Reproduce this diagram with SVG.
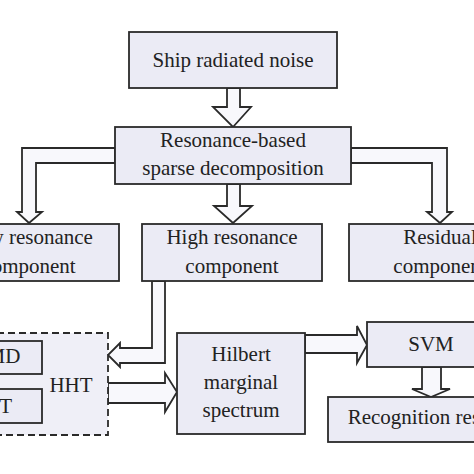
<svg xmlns="http://www.w3.org/2000/svg" width="474" height="474" viewBox="0 0 474 474">
<style>
.box{fill:#ebebf5;stroke:#2a2a2a;stroke-width:1.8}
.dash{fill:#efeff7;stroke:#2a2a2a;stroke-width:1.8;stroke-dasharray:7 4}
.arr{fill:#f8f8fc;stroke:#2a2a2a;stroke-width:1.8;stroke-linejoin:miter}
.t{font-family:'Liberation Serif','Times New Roman',Tinos,'DejaVu Serif',serif;font-size:21px;fill:#222;text-anchor:middle}
</style>
<rect width="474" height="474" fill="#ffffff"/>
<g id="connectors">
<polygon class="arr" points="227,88 227,107 213,107 233,127 251,107 240,107 240,88"/>
<polygon class="arr" points="115,148 22,148 22,212 17,212 29,223 42,212 36,212 36,163 115,163"/>
<polygon class="arr" points="351,148 447,148 447,212 452,212 440,223 427,212 432,212 432,163 351,163"/>
<polygon class="arr" points="227,184 227,206 214,206 233,223 252,206 240,206 240,184"/>
<polygon class="arr" points="152,281 152,348 120,348 120,343 108,355 120,367 120,363 165,363 165,281"/>
<polygon class="arr" points="108,383 165,383 165,373 177,392 165,412 165,403 108,403"/>
<polygon class="arr" points="305,335 357,335 357,326 367,345 357,363 357,353 305,353"/>
<polygon class="arr" points="422,367 422,389 412,389 431,397 450,389 441,389 441,367"/>
</g>
<g id="ship">
<rect class="box" x="129" y="32" width="208" height="56"/>
<text class="t" font-family="Liberation Serif, serif" x="233" y="67">Ship radiated noise</text>
</g>
<g id="rsd">
<rect class="box" x="115" y="127" width="236" height="57"/>
<text class="t" font-family="Liberation Serif, serif" x="233" y="147">Resonance-based</text>
<text class="t" font-family="Liberation Serif, serif" x="233" y="175">sparse decomposition</text>
</g>
<g id="low">
<rect class="box" x="-61" y="224" width="180" height="57"/>
<text class="t" font-family="Liberation Serif, serif" x="29" y="244">Low resonance</text>
<text class="t" font-family="Liberation Serif, serif" x="29" y="273">component</text>
</g>
<g id="high">
<rect class="box" x="142" y="224" width="180" height="57"/>
<text class="t" font-family="Liberation Serif, serif" x="232" y="244">High resonance</text>
<text class="t" font-family="Liberation Serif, serif" x="232" y="273">component</text>
</g>
<g id="residual">
<rect class="box" x="349" y="224" width="180" height="57"/>
<text class="t" font-family="Liberation Serif, serif" x="440" y="244">Residual</text>
<text class="t" font-family="Liberation Serif, serif" x="440" y="273">component</text>
</g>
<g id="hht">
<rect class="dash" x="-80" y="333" width="188" height="102"/>
<text class="t" font-family="Liberation Serif, serif" x="71" y="392">HHT</text>
</g>
<g id="emd">
<rect class="box" x="-49" y="341" width="91" height="33"/>
<text class="t" font-family="Liberation Serif, serif" x="-3" y="363">EMD</text>
</g>
<g id="ht">
<rect class="box" x="-49" y="389" width="91" height="34"/>
<text class="t" font-family="Liberation Serif, serif" x="-2" y="413">HT</text>
</g>
<g id="hilbert">
<rect class="box" x="177" y="333" width="128" height="101"/>
<text class="t" font-family="Liberation Serif, serif" x="241" y="361">Hilbert</text>
<text class="t" font-family="Liberation Serif, serif" x="241" y="389">marginal</text>
<text class="t" font-family="Liberation Serif, serif" x="241" y="417">spectrum</text>
</g>
<g id="svm">
<rect class="box" x="367" y="322" width="126" height="45"/>
<text class="t" font-family="Liberation Serif, serif" x="431" y="351">SVM</text>
</g>
<g id="recognition">
<rect class="box" x="328" y="397" width="194" height="45"/>
<text class="t" font-family="Liberation Serif, serif" x="425" y="424">Recognition result</text>
</g>
</svg>
